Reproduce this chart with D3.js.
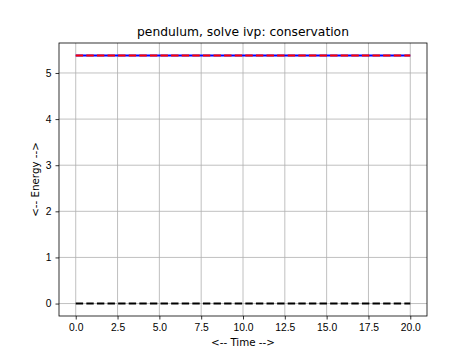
<!DOCTYPE html>
<html>
<head>
<meta charset="utf-8">
<script src="https://cdn.jsdelivr.net/npm/d3@7"></script>
<style>
  body { margin: 0; background: #fff; }
  svg { font-family: "DejaVu Sans", sans-serif; }
</style>
</head>
<body>
<svg id="chart"></svg>
<script>
// sample times and energies
const times = [0, 2.5, 5, 7.5, 10, 12.5, 15, 17.5, 20];
const totalEnergy = [5.38, 5.38, 5.38, 5.38, 5.38, 5.38, 5.38, 5.38, 5.38];
const refEnergy = [5.38, 5.38, 5.38, 5.38, 5.38, 5.38, 5.38, 5.38, 5.38];
const energyError = [0, 0, 0, 0, 0, 0, 0, 0, 0];
const xTicks = [0, 2.5, 5, 7.5, 10, 12.5, 15, 17.5, 20];
const yTicks = [0, 1, 2, 3, 4, 5];

const width = 474, height = 355;
const margin = {top: 43, right: 47, bottom: 39, left: 59};
const innerW = width - margin.left - margin.right;
const innerH = height - margin.top - margin.bottom;

const svg = d3.select('#chart')
    .attr('width', width)
    .attr('height', height);

const g = svg.append('g')
    .attr('transform', `translate(${margin.left},${margin.top})`);

const x = d3.scaleLinear().domain([-1, 21]).range([0, innerW]);
const y = d3.scaleLinear().domain([-0.27, 5.65]).range([innerH, 0]);

// grid
g.append('g').selectAll('line')
    .data(xTicks).enter().append('line')
    .attr('x1', d => x(d)).attr('x2', d => x(d))
    .attr('y1', 0).attr('y2', innerH)
    .attr('stroke', '#b0b0b0').attr('stroke-width', 0.8);
g.append('g').selectAll('line')
    .data(yTicks).enter().append('line')
    .attr('x1', 0).attr('x2', innerW)
    .attr('y1', d => y(d)).attr('y2', d => y(d))
    .attr('stroke', '#b0b0b0').attr('stroke-width', 0.8);

// axes
const xAxis = g.append('g')
    .attr('transform', `translate(0,${innerH})`)
    .call(d3.axisBottom(x).tickValues(xTicks).tickFormat(d3.format('.1f')).tickSizeOuter(0).tickSize(3.5).tickPadding(4));
const yAxis = g.append('g')
    .call(d3.axisLeft(y).tickValues(yTicks).tickFormat(d3.format('d')).tickSizeOuter(0).tickSize(3.5).tickPadding(4));
[xAxis, yAxis].forEach(a => {
    a.select('.domain').remove();
    a.selectAll('text').style('font-size', '10.3px').attr('fill', '#000');
    a.selectAll('line').attr('stroke', '#000').attr('stroke-width', 0.8);
});

// lines
const line = vals => d3.line()
    .x((d, i) => x(times[i]))
    .y(d => y(d))(vals);

g.append('path')
    .attr('d', line(totalEnergy))
    .attr('fill', 'none').attr('stroke', '#0000ff').attr('stroke-width', 2);
g.append('path')
    .attr('d', line(refEnergy))
    .attr('fill', 'none').attr('stroke', '#ff0000').attr('stroke-width', 2)
    .attr('stroke-dasharray', '7.4,3.2');
g.append('path')
    .attr('d', line(energyError))
    .attr('fill', 'none').attr('stroke', '#000').attr('stroke-width', 2)
    .attr('stroke-dasharray', '7.4,3.2');

// frame
g.append('rect')
    .attr('width', innerW).attr('height', innerH)
    .attr('fill', 'none').attr('stroke', '#000').attr('stroke-width', 0.8);

// title and labels
svg.append('text')
    .attr('x', margin.left + innerW / 2).attr('y', margin.top - 7)
    .attr('text-anchor', 'middle')
    .style('font-size', '12.3px')
    .text('pendulum, solve ivp: conservation');

svg.append('text')
    .attr('x', margin.left + innerW / 2).attr('y', height - 9)
    .attr('text-anchor', 'middle')
    .style('font-size', '10.3px')
    .text('<-- Time -->');

svg.append('text')
    .attr('transform', `translate(${39},${margin.top + innerH / 2}) rotate(-90)`)
    .attr('text-anchor', 'middle')
    .style('font-size', '10.3px')
    .text('<-- Energy -->');
</script>
</body>
</html>
